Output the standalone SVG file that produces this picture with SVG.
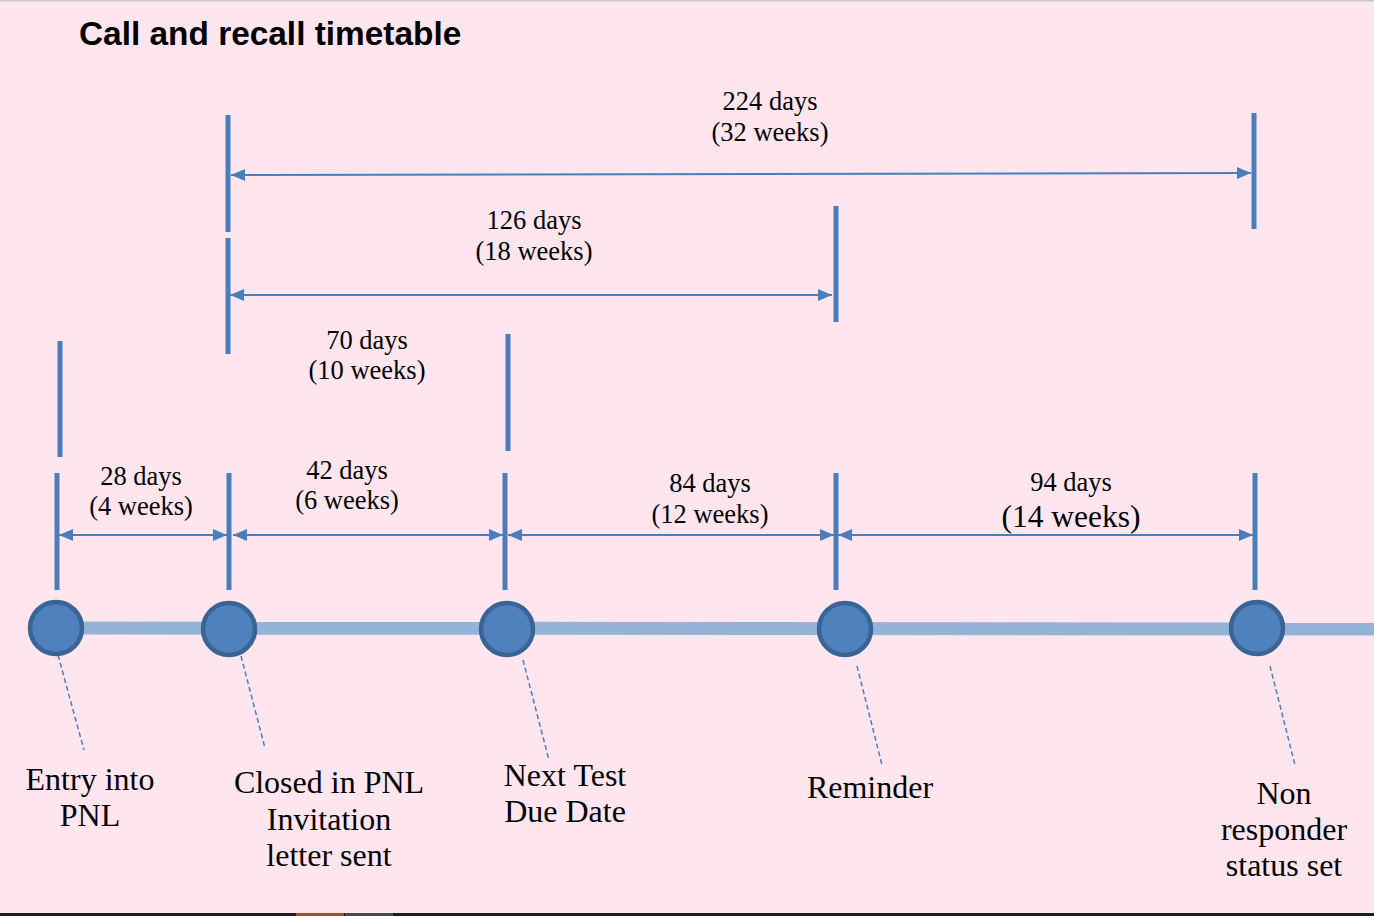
<svg xmlns="http://www.w3.org/2000/svg" width="1374" height="916" viewBox="0 0 1374 916">
<style>
.bar{stroke:#4A7EBB;stroke-width:5;fill:none}
.dim{stroke:#4A7EBB;stroke-width:2;fill:none;marker-start:url(#ah);marker-end:url(#ah)}
.lead{stroke:#4A7EBB;stroke-width:1.5;stroke-dasharray:5,3;fill:none}
.node{fill:#4F81BD;stroke:#3A6496;stroke-width:4.5}
.m{font-family:"Liberation Serif","DejaVu Serif",serif;font-size:26.5px;fill:#000;text-anchor:middle}
.lab{font-family:"Liberation Serif","DejaVu Serif",serif;font-size:32px;fill:#000;text-anchor:middle}
</style>
<defs>
<marker id="ah" viewBox="0 0 14 12" refX="14" refY="6" markerWidth="14" markerHeight="12" markerUnits="userSpaceOnUse" orient="auto-start-reverse">
<path d="M0,0 L14,6 L0,12 Z" fill="#4A7EBB"/>
</marker>
</defs>
<rect x="0" y="0" width="1374" height="916" fill="#FFE6EE"/>
<rect x="0" y="0" width="1374" height="1.5" fill="#C8C8C8"/>
<rect x="0" y="913" width="1374" height="3" fill="#1E1E1E"/>
<rect x="296" y="913" width="48" height="3" fill="#A0521E"/>
<rect x="345" y="913" width="48" height="3" fill="#4A4A4A"/>
<text x="79" y="45" font-family="Liberation Sans, Arial, sans-serif" font-weight="bold" font-size="33.4" fill="#000">Call and recall timetable</text>
<g id="connectors">
<line class="bar" x1="228" y1="115" x2="228" y2="232"/>
<line class="bar" x1="228" y1="238" x2="228" y2="354"/>
<line class="bar" x1="1254" y1="113" x2="1254" y2="229"/>
<line class="bar" x1="836" y1="206" x2="836" y2="322"/>
<line class="bar" x1="508" y1="334" x2="508" y2="451"/>
<line class="bar" x1="60" y1="341" x2="60" y2="457"/>
<line class="bar" x1="57" y1="473" x2="57" y2="590"/>
<line class="bar" x1="229" y1="473" x2="229" y2="590"/>
<line class="bar" x1="505" y1="473" x2="505" y2="590"/>
<line class="bar" x1="836" y1="473" x2="836" y2="590"/>
<line class="bar" x1="1255" y1="473" x2="1255" y2="590"/>
<line class="dim" x1="231" y1="175" x2="1251" y2="173"/>
<line class="dim" x1="230" y1="295" x2="832" y2="295"/>
<line class="dim" x1="59" y1="535" x2="227" y2="535"/>
<line class="dim" x1="233" y1="535" x2="503" y2="535"/>
<line class="dim" x1="508" y1="535" x2="834" y2="535"/>
<line class="dim" x1="838" y1="535" x2="1253" y2="535"/>
<line x1="55" y1="628" x2="1374" y2="629" stroke="#95B3D7" stroke-width="13"/>
<line class="lead" x1="58" y1="655" x2="84" y2="750"/>
<line class="lead" x1="241" y1="656" x2="265" y2="748"/>
<line class="lead" x1="523" y1="660" x2="549" y2="760"/>
<line class="lead" x1="857" y1="666" x2="882" y2="765"/>
<line class="lead" x1="1270" y1="666" x2="1295" y2="765"/>
</g>
<g id="span-labels">
<text class="m" x="770" y="110">224 days</text>
<text class="m" x="770" y="141">(32 weeks)</text>
<text class="m" x="534" y="229">126 days</text>
<text class="m" x="534" y="260">(18 weeks)</text>
<text class="m" x="367" y="349">70 days</text>
<text class="m" x="367" y="379">(10 weeks)</text>
<text class="m" x="141" y="485">28 days</text>
<text class="m" x="141" y="515">(4 weeks)</text>
<text class="m" x="347" y="479">42 days</text>
<text class="m" x="347" y="509">(6 weeks)</text>
<text class="m" x="710" y="492">84 days</text>
<text class="m" x="710" y="523">(12 weeks)</text>
<text class="m" x="1071" y="491">94 days</text>
<text class="m" x="1071" y="527" style="font-size:31.5px">(14 weeks)</text>
</g>
<g id="n-entry">
<circle class="node" cx="56" cy="628" r="26"/>
<text class="lab" x="90" y="790">Entry into</text>
<text class="lab" x="90" y="826">PNL</text>
</g>
<g id="n-closed">
<circle class="node" cx="229" cy="629" r="26"/>
<text class="lab" x="329" y="793">Closed in PNL</text>
<text class="lab" x="329" y="830">Invitation</text>
<text class="lab" x="329" y="866">letter sent</text>
</g>
<g id="n-nexttest">
<circle class="node" cx="507" cy="629" r="26"/>
<text class="lab" x="565" y="786">Next Test</text>
<text class="lab" x="565" y="822">Due Date</text>
</g>
<g id="n-reminder">
<circle class="node" cx="845" cy="629" r="26"/>
<text class="lab" x="870" y="798">Reminder</text>
</g>
<g id="n-nonresponder">
<circle class="node" cx="1257" cy="628" r="26"/>
<text class="lab" x="1284" y="804">Non</text>
<text class="lab" x="1284" y="840">responder</text>
<text class="lab" x="1284" y="876">status set</text>
</g>
</svg>
